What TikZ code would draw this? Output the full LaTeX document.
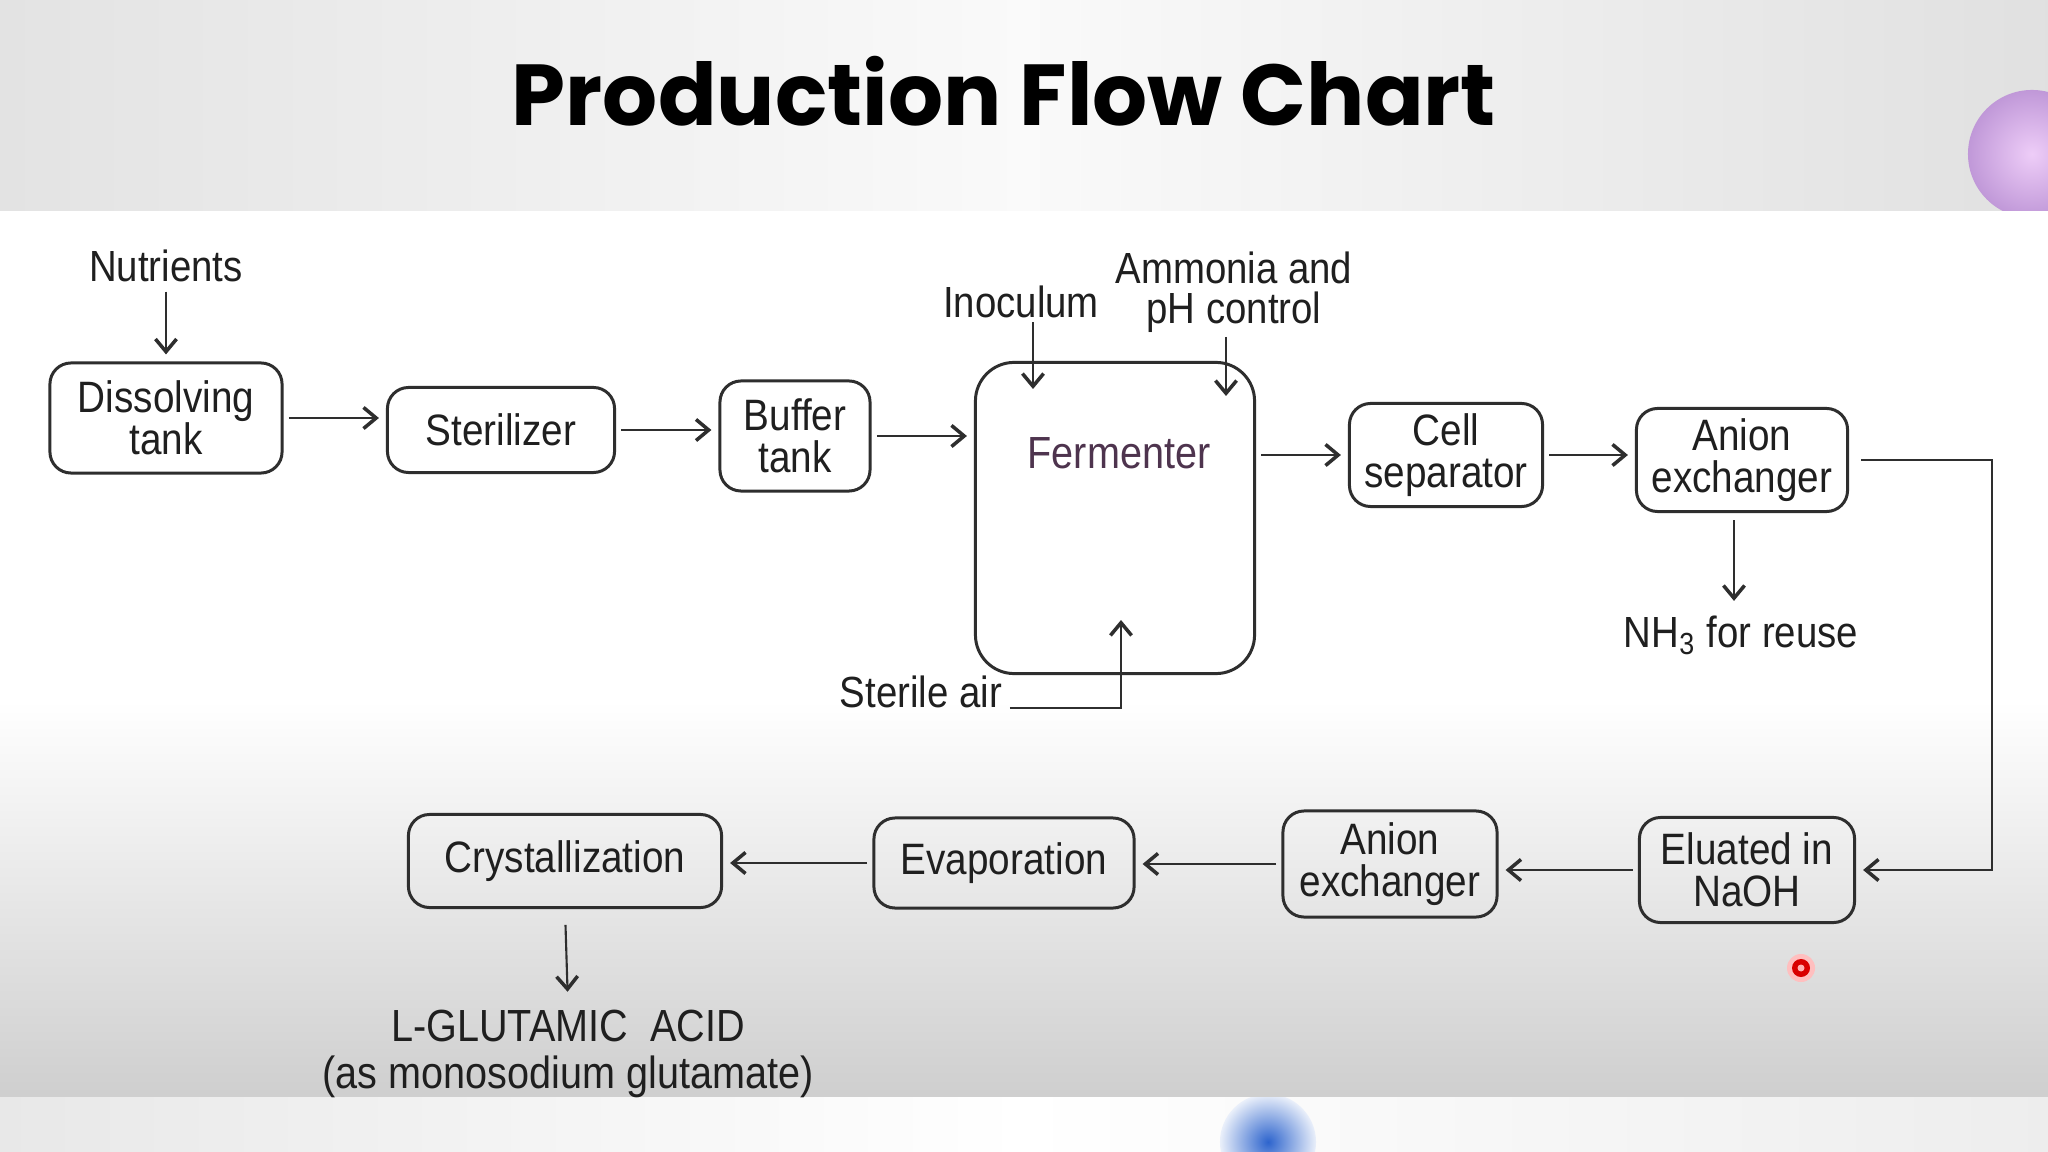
\documentclass[tikz,border=0pt]{standalone}
\usepackage{fontspec}
\setmainfont{Liberation Sans}[FakeStretch=0.88]
\newfontfamily\titleFont{Poppins}
\usetikzlibrary{arrows.meta}

\colorlet{chartLine}{black!82}
\colorlet{chartText}{black!88}
\definecolor{fermText}{RGB}{78,52,78}
\definecolor{blobPurpleIn}{RGB}{238,205,248}
\definecolor{blobPurpleOut}{RGB}{192,152,216}
\definecolor{blobBlue}{RGB}{45,100,205}

\tikzset{
  stage/.style={draw=chartLine, line width=0.85pt, rounded corners=6pt, align=center,
                inner sep=0pt, text=chartText, font=\fontsize{12.5}{11.8}\selectfont},
  feed/.style={align=center, inner sep=1pt, text=chartText, font=\fontsize{12.4}{11.5}\selectfont},
  flow/.style={draw=chartLine, line width=0.6pt,
               -{Straight Barb[length=3.6pt,width=6pt,line width=1pt]},
               shorten <=1.5pt, shorten >=2pt},
}

\begin{document}
\begin{tikzpicture}[x=0.01cm, y=-0.01cm]
        \useasboundingbox (0,0) rectangle (2048,1152);
        % slide background
        \shade[left color=black!11, right color=black!12, middle color=black!2] (0,0) rectangle (2048,211);
        \fill[white] (0,211) rectangle (2048,700);
        \shade[top color=white, bottom color=black!19] (0,700) rectangle (2048,1097);
        \shade[left color=black!9, right color=black!7, middle color=white] (0,1097) rectangle (2048,1152);
        \begin{scope}
          \clip (0,0) rectangle (2048,211);
          \shade[inner color=blobPurpleIn, outer color=blobPurpleOut] (2032,154) circle (0.64cm);
        \end{scope}
        \begin{scope}
          \clip (0,1097) rectangle (2048,1152);
          \shade[inner color=blobBlue, outer color=blobBlue!10!white] (1268,1142) circle (0.48cm);
        \end{scope}
        \fill[red!25!white] (1801,968) circle (0.14cm);
        \fill[red!85!black] (1801,968) circle (0.09cm);
        \fill[red!30!white] (1801,968) circle (0.035cm);

        \node (title) at (1004,91) {\titleFont\bfseries\fontsize{24.6}{26}\selectfont Production Flow Chart};

        % top row
        \node[stage, minimum width=2.32cm, minimum height=1.10cm] (diss) at (166,418) {Dissolving\\tank};
        \node[stage, minimum width=2.27cm, minimum height=0.85cm] (ster) at (501,430) {Sterilizer};
        \node[stage, minimum width=1.50cm, minimum height=1.10cm] (buf) at (795,436) {Buffer\\tank};
        \node[stage, rounded corners=11pt, minimum width=2.79cm, minimum height=3.11cm] (ferm) at (1115,518) {};
        \node[feed, text=fermText, font=\fontsize{12.8}{13}\selectfont] (fermName) at (1119,453) {Fermenter};
        \node[stage, minimum width=1.93cm, minimum height=1.03cm] (cellSep) at (1446,455) {Cell\\separator};
        \node[stage, minimum width=2.11cm, minimum height=1.03cm] (anionA) at (1742,460) {Anion\\exchanger};

        % bottom row
        \node[stage, minimum width=2.15cm, minimum height=1.05cm] (elut) at (1747,870) {Eluated in\\NaOH};
        \node[stage, minimum width=2.14cm, minimum height=1.06cm] (anionB) at (1390,864) {Anion\\exchanger};
        \node[stage, minimum width=2.60cm, minimum height=0.90cm] (evap) at (1004,863) {Evaporation};
        \node[stage, minimum width=3.13cm, minimum height=0.93cm] (cryst) at (565,861) {Crystallization};

        % inputs and outputs
        \node[feed] (nutr) at (166,266) {Nutrients};
        \node[feed] (inoc) at (1021,302) {Inoculum};
        \node[feed] (ammo) at (1234,292) {Ammonia and\\pH control};
        \node[feed] (air) at (921,692) {Sterile air};
        \node[feed] (nh3) at (1741,635) {NH\textsubscript{3} for reuse};
        \node[feed, font=\fontsize{12.8}{13.4}\selectfont] (prod) at (568,1054) {L-GLUTAMIC\ \ ACID\\(as monosodium glutamate)};

        \coordinate (inocIn) at (1033,389);
        \coordinate (ammoIn) at (1226,396);
        \coordinate (airIn) at (1121,620);
        \coordinate (loopX) at (1992,0);

        \draw[flow] (nutr) -- (diss);
        \draw[flow] (diss.east) -- (diss.east -| ster.west);
        \draw[flow] (ster.east) -- (ster.east -| buf.west);
        \draw[flow] (buf.east) -- (buf.east -| ferm.west);
        \draw[flow] (ferm.east |- cellSep.west) -- (cellSep.west);
        \draw[flow] (cellSep.east) -- (cellSep.east -| anionA.west);
        \draw[flow, shorten <=0pt, shorten >=0pt] (inoc.south -| inocIn) -- (inocIn);
        \draw[flow, shorten <=0pt, shorten >=0pt] (ammo.south -| ammoIn) -- (ammoIn);
        \draw[flow, shorten <=1pt, shorten >=0pt] (air.base east) -| (airIn);
        \draw[flow, shorten <=2pt, shorten >=3pt] ([xshift=-0.08cm]anionA.south) -- ([xshift=-0.08cm]anionA.south |- nh3.north);
        \draw[flow, line width=0.5pt, shorten <=3.5pt] (anionA.east) -- (anionA.east -| loopX)
              -- (elut.east -| loopX) -- (elut.east);
        \draw[flow] (elut.west) -- (elut.west -| anionB.east);
        \draw[flow] (anionB.west) -- (anionB.west -| evap.east);
        \draw[flow] (evap.west) -- (evap.west -| cryst.east);
        \draw[flow, shorten <=4.5pt, shorten >=4pt] (cryst.south) -- (prod.north);
      \end{tikzpicture}
\end{document}
